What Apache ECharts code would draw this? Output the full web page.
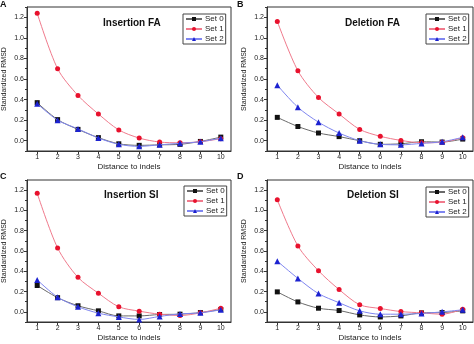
<!DOCTYPE html>
<html>
<head>
<meta charset="utf-8">
<script src="https://cdn.jsdelivr.net/npm/echarts@6/dist/echarts.min.js"></script>
<style>
  html, body { margin: 0; padding: 0; background: #fff; }
  #main { width: 474px; height: 344px; }
</style>
</head>
<body>
<div id="main"></div>
<script>
    "use strict";
    var distances = [1, 2, 3, 4, 5, 6, 7, 8, 9, 10];
    var setNames = ['Set 0', 'Set 1', 'Set 2'];
    var panelLetters = ['A', 'B', 'C', 'D'];
    var panelTitles = ['Insertion FA', 'Deletion FA', 'Insertion SI', 'Deletion SI'];
    var yLabels = [0, 0.2, 0.4, 0.6, 0.8, 1.0, 1.2];
    var yMinor = [-0.1, 0.1, 0.3, 0.5, 0.7, 0.9, 1.1, 1.3];

    // Insertion FA
    var insFA0 = [0.37, 0.205, 0.11, 0.03, -0.03, -0.045, -0.04, -0.035, -0.007, 0.035];
    var insFA1 = [1.24, 0.70, 0.44, 0.26, 0.105, 0.026, -0.013, -0.02, -0.01, 0.02];
    var insFA2 = [0.36, 0.20, 0.115, 0.026, -0.035, -0.055, -0.04, -0.025, -0.01, 0.025];
    // Deletion FA
    var delFA0 = [0.227, 0.138, 0.075, 0.04, 0.0, -0.035, -0.03, -0.01, -0.013, 0.016];
    var delFA1 = [1.16, 0.68, 0.42, 0.26, 0.11, 0.043, 0.003, -0.02, -0.015, 0.03];
    var delFA2 = [0.54, 0.325, 0.18, 0.075, 0.0, -0.035, -0.04, -0.026, -0.01, 0.033];
    // Insertion SI
    var insSI0 = [0.26, 0.14, 0.06, 0.01, -0.04, -0.04, -0.026, -0.023, -0.007, 0.023];
    var insSI1 = [1.17, 0.63, 0.34, 0.184, 0.05, 0.007, -0.023, -0.036, -0.01, 0.036];
    var insSI2 = [0.315, 0.145, 0.05, -0.013, -0.05, -0.075, -0.045, -0.02, -0.01, 0.02];
    // Deletion SI
    var delSI0 = [0.197, 0.098, 0.036, 0.013, -0.03, -0.05, -0.04, -0.01, -0.007, 0.01];
    var delSI1 = [1.105, 0.65, 0.405, 0.22, 0.07, 0.033, 0.003, -0.01, -0.023, 0.026];
    var delSI2 = [0.5, 0.33, 0.18, 0.09, 0.01, -0.023, -0.023, -0.016, 0.0, 0.02];

    var panelData = [
        [insFA0, insFA1, insFA2],
        [delFA0, delFA1, delFA2],
        [insSI0, insSI1, insSI2],
        [delSI0, delSI1, delSI2]
    ];

    var FONT = '"Liberation Sans", Arial, sans-serif';
    var setStyle = [
        { line: '#6a6a6a', mark: '#111111', symbol: 'rect', size: 5 },
        { line: '#f07a8c', mark: '#e8112d', symbol: 'circle', size: 5 },
        { line: '#7f86f0', mark: '#1c22d0', symbol: 'triangle', size: 6 }
    ];

    // grid boxes: [left, top, width, height]
    var grids = [[25, 7, 206, 144], [267, 7, 206, 144], [25, 180, 206, 142], [267, 180, 206, 142]];
    var legendPos = [[183, 14], [426, 14], [184, 186], [426, 187]];
    var titlePos = [[103, 18], [345, 18], [104, 190], [347, 190]];
    var letterPos = [[0, 0], [237, 0], [0, 172], [237, 172]];

    var option = {
        animation: false,
        backgroundColor: '#fff',
        textStyle: { fontFamily: FONT },
        grid: [], xAxis: [], yAxis: [], series: [], legend: [], title: []
    };

    grids.forEach(function (g, p) {
        option.grid.push({
            left: g[0], top: g[1], width: g[2], height: g[3],
            show: true, borderColor: '#333', borderWidth: 1, backgroundColor: 'transparent'
        });
        option.xAxis.push({
            type: 'value', gridIndex: p, min: 0.5, max: 10.5,
            name: 'Distance to indels', nameLocation: 'middle', nameGap: 12,
            nameTextStyle: { fontSize: 8, color: '#222', fontFamily: FONT },
            axisLine: { show: true, onZero: false, lineStyle: { color: '#333', width: 1 } },
            axisTick: { show: true, length: 3, lineStyle: { color: '#333' }, customValues: distances },
            axisLabel: { fontSize: 7, color: '#222', margin: 3, customValues: distances },
            splitLine: { show: false }
        });
        option.yAxis.push({
            type: 'value', gridIndex: p, min: -0.1, max: 1.3,
            name: 'Standardized RMSD', nameLocation: 'middle', nameGap: 19,
            nameTextStyle: { fontSize: 7, color: '#222', fontFamily: FONT },
            axisLine: { show: true, onZero: false, lineStyle: { color: '#333', width: 1 } },
            axisTick: { show: true, length: 3, lineStyle: { color: '#333' }, customValues: yLabels },
            axisLabel: {
                fontSize: 7, color: '#222', margin: 3, customValues: yLabels,
                formatter: function (v) { return v.toFixed(1); }
            },
            splitLine: { show: false }
        });
        // second y axis only for the short minor ticks
        option.yAxis.push({
            type: 'value', gridIndex: p, min: -0.1, max: 1.3, position: 'left',
            axisLine: { show: false, onZero: false },
            axisTick: { show: true, length: 2, lineStyle: { color: '#333' }, customValues: yMinor },
            axisLabel: { show: false },
            splitLine: { show: false }
        });

        setNames.forEach(function (name, s) {
            var vals = panelData[p][s];
            option.series.push({
                name: name, type: 'line', xAxisIndex: p, yAxisIndex: p * 2,
                data: distances.map(function (d, i) { return [d, vals[i]]; }),
                symbol: setStyle[s].symbol, symbolSize: setStyle[s].size,
                smooth: 0.3,
                lineStyle: { color: setStyle[s].line, width: 1 },
                itemStyle: { color: setStyle[s].mark },
                z: 3 + s
            });
        });

        option.legend.push({
            orient: 'vertical', left: legendPos[p][0], top: legendPos[p][1],
            data: setNames, itemWidth: 16, itemHeight: 5, itemGap: 2,
            padding: [1, 2, 1, 2], borderColor: '#444', borderWidth: 1,
            textStyle: { fontSize: 8, color: '#222', padding: [0, 0, 0, -2], fontFamily: FONT }
        });
        option.title.push({
            text: panelTitles[p], left: titlePos[p][0], top: titlePos[p][1], padding: 0,
            textStyle: { fontSize: 10, fontWeight: 'bold', color: '#111', fontFamily: FONT }
        });
        option.title.push({
            text: panelLetters[p], left: letterPos[p][0], top: letterPos[p][1], padding: 0,
            textStyle: { fontSize: 9, fontWeight: 'bold', color: '#111', fontFamily: FONT }
        });
    });

    var chart = echarts.init(document.getElementById('main'), null, { renderer: 'canvas' });
    chart.setOption(option);
</script>
</body>
</html>
